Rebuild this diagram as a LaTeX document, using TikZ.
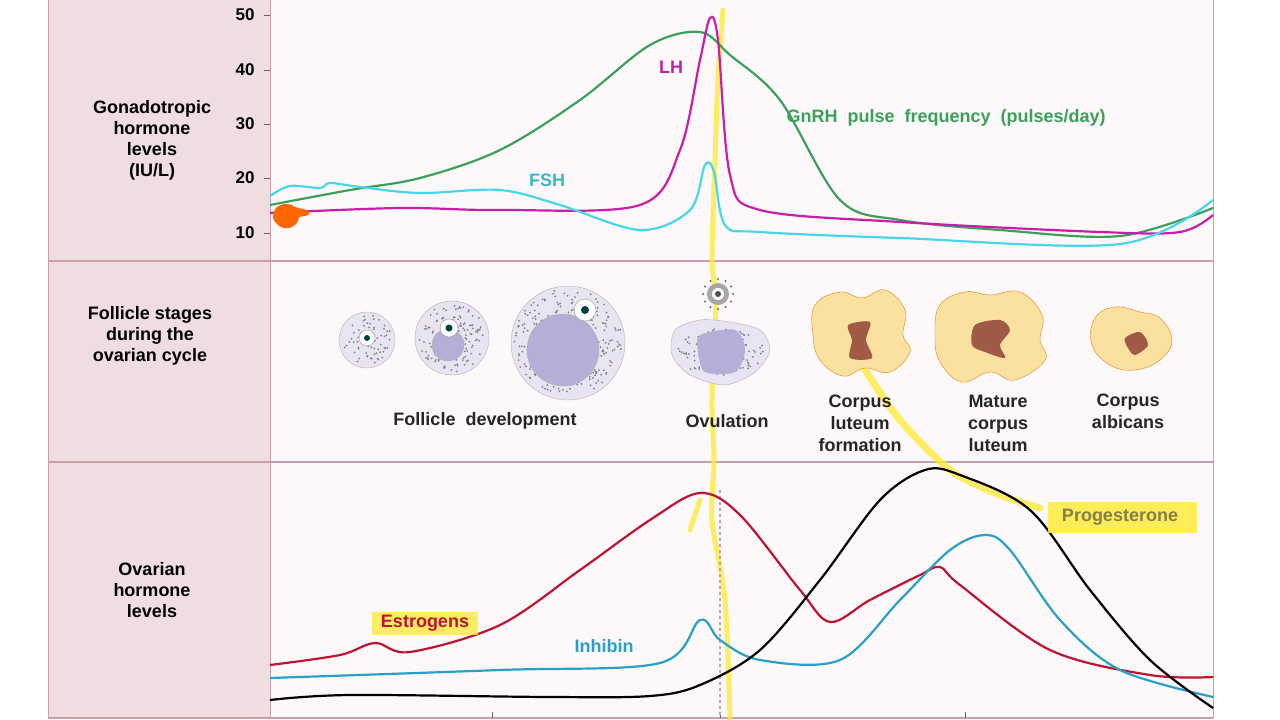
\documentclass[tikz,border=0pt]{standalone}
\usepackage{fontspec}
\setmainfont{Liberation Sans}
\definecolor{panel}{RGB}{240,221,226}
\definecolor{bgr}{RGB}{253,248,250}
\definecolor{divl}{RGB}{200,160,170}
\definecolor{gnrh}{RGB}{60,160,90}
\definecolor{lh}{RGB}{200,30,170}
\definecolor{fsh}{RGB}{70,215,235}
\definecolor{estr}{RGB}{190,20,50}
\definecolor{inh}{RGB}{40,160,200}
\definecolor{hl}{RGB}{255,235,60}
\definecolor{cl}{RGB}{250,225,160}
\definecolor{clc}{RGB}{160,90,70}
\definecolor{foll}{RGB}{232,228,242}
\definecolor{oocyte}{RGB}{180,175,215}
\tikzset{
 curve/.style={line width=2.2pt, smooth, tension=0.55},
 lbl/.style={font=\bfseries\fontsize{18}{21}\selectfont, align=center},
 axn/.style={font=\bfseries\fontsize{17}{18}\selectfont, anchor=east},
 clab/.style={font=\bfseries\fontsize{18}{20}\selectfont},
 stage/.style={font=\bfseries\fontsize{18}{22}\selectfont, align=center, text=black!85},
}
\newcommand{\granules}[5]{% cx cy rx ry n
 \foreach \i in {1,...,#5}{%
  \pgfmathsetmacro{\rr}{sqrt(rnd)}\pgfmathsetmacro{\aa}{360*rnd}%
  \fill[black!50] ({#1+#3*\rr*cos(\aa)},{#2+#4*\rr*sin(\aa)}) circle (1);}}
\begin{document}
\begin{tikzpicture}[x=1pt,y=-1pt]
\pgfmathsetseed{7}
\useasboundingbox (0,0) rectangle (1280,720);
\fill[white] (0,0) rectangle (1280,720);
\fill[bgr] (270,0) rectangle (1213,718);
\fill[panel] (48,0) rectangle (270,718);
\draw[divl, line width=1pt] (48,0) -- (48,718) (270,0) -- (270,718) (1213,0) -- (1213,718);
\draw[divl, line width=1.5pt] (48,261) -- (1213,261) (48,462) -- (1213,462) (48,718) -- (1213,718);
% left labels
\node[lbl] (gl) at (152,140) {Gonadotropic\\hormone\\levels\\(IU/L)};
\node[lbl] (fl) at (150,336) {Follicle stages\\during the\\ovarian cycle};
\node[lbl] (ol) at (152,590) {Ovarian\\hormone\\levels};
% axis
\foreach \v/\y in {50/15,40/70,30/124,20/178,10/233}{
 \node[axn] (a\v) at (258,\y) {\v};
 \draw[black!60] (264,\y) -- (270,\y);
}
\foreach \x in {492,720,965}{\draw[black!60] (\x,712) -- (\x,718);}
% yellow highlight line
\draw[hl, line width=5pt, opacity=0.8, line cap=round] plot[smooth] coordinates {(723,10) (718,80) (715,160) (712,260) (716,300) (712,400) (714,460) (712,520) (725,600) (730,718)};
\draw[hl, line width=5pt, opacity=0.8, line cap=round] (700,500) -- (690,530);
\draw[hl, line width=7pt, opacity=0.8, line cap=round] plot[smooth] coordinates {(865,370) (900,420) (950,470) (1000,495) (1040,508)};
% top curves
\draw[gnrh, curve] plot coordinates {(270,205) (350,190) (420,178) (500,150) (580,100) (650,45) (700,32) (730,55) (780,100) (840,200) (900,220) (1000,230) (1120,236) (1213,208)};
\draw[lh, curve] plot coordinates {(270,213) (400,208) (500,210) (640,205) (680,150) (700,60) (710,18) (718,40) (730,175) (760,210) (900,222) (1100,232) (1180,232) (1213,215)};
\draw[fsh, curve] plot coordinates {(270,196) (290,186) (320,188) (330,183) (360,187) (420,193) (500,190) (560,205) (640,230) (690,210) (705,165) (714,172) (725,225) (760,232) (900,238) (1120,244) (1213,200)};
\node[clab, text=lh] (lhl) at (671,67) {LH};
\node[clab, text=fsh!85!black] (fshl) at (547,180) {FSH};
\node[clab, text=gnrh, anchor=west] (gnl) at (783,118) {GnRH\ \ pulse\ \ frequency\ \ (pulses/day)};
% hand pointer
\fill[orange!80!red] (274,212) .. controls (276,203) and (290,202) .. (295,207) -- (307,210) .. controls (311,211) and (310,216) .. (305,216) -- (299,217) .. controls (298,228) and (284,232) .. (277,224) .. controls (273,221) and (272,216) .. (274,212) -- cycle;
% follicles
\fill[foll, draw=black!30] (367,340) circle (28);
\granules{367}{340}{25}{25}{70}
\fill[white, draw=black!40] (367,338) circle (8); \fill[teal!50!black] (367,338) circle (3);
\fill[foll, draw=black!30] (452,338) circle (37);
\granules{452}{338}{34}{34}{140}
\fill[oocyte, draw=black!30] (448,345) circle (16);
\fill[white, draw=black!40] (449,328) circle (9); \fill[teal!50!black] (449,328) circle (3.5);
\fill[foll, draw=black!30] (568,343) circle (57);
\granules{568}{343}{54}{54}{300}
\fill[oocyte, draw=black!30] (563,350) circle (36);
\fill[white, draw=black!40] (585,310) circle (11); \fill[teal!50!black] (585,310) circle (4);
% ovulation
\fill[foll, draw=black!30] plot[smooth cycle] coordinates {(675,330) (700,320) (730,322) (760,330) (770,350) (755,372) (725,385) (690,375) (672,355)};
\granules{720}{352}{44}{24}{120}
\fill[oocyte] plot[smooth cycle] coordinates {(700,335) (735,330) (745,350) (735,372) (705,372) (698,352)};
\foreach \a in {0,30,...,330}{\fill[black!60] ({718+15*cos(\a)},{294+15*sin(\a)}) circle (1.2);}
\fill[black!35] (718,294) circle (11); \fill[white] (718,294) circle (6); \fill[black!70] (718,294) circle (3);
% corpus luteum
\fill[cl, draw=orange!60!brown] plot[smooth cycle, tension=0.7] coordinates {(815,305) (840,292) (862,298) (885,290) (905,310) (903,335) (910,352) (890,372) (865,368) (843,376) (820,360) (813,335)};
\fill[clc] plot[smooth cycle] coordinates {(848,325) (870,322) (866,340) (872,358) (850,358) (852,340)};
\fill[cl, draw=orange!60!brown] plot[smooth cycle, tension=0.7] coordinates {(940,305) (965,292) (990,295) (1020,292) (1042,315) (1040,340) (1045,360) (1015,380) (990,372) (962,382) (940,362) (935,335)};
\fill[clc] plot[smooth cycle] coordinates {(975,325) (1000,320) (1010,330) (1000,345) (1005,358) (985,352) (972,345)};
\fill[cl, draw=orange!60!brown] plot[smooth cycle, tension=0.7] coordinates {(1095,318) (1115,307) (1140,312) (1160,318) (1172,340) (1160,360) (1135,370) (1110,365) (1092,345)};
\fill[clc] plot[smooth cycle] coordinates {(1125,338) (1140,332) (1148,345) (1135,355) (1128,348)};
% stage labels
\node[stage] (s1) at (485,421) {Follicle\ \ development};
\node[stage] (s2) at (727,421) {Ovulation};
\node[stage] (s3) at (860,423) {Corpus\\luteum\\formation};
\node[stage] (s4) at (998,423) {Mature\\corpus\\luteum};
\node[stage] (s5) at (1128,411) {Corpus\\albicans};
% dashed line
\draw[divl, dashed, line width=1.2pt] (720,490) -- (720,718);
% bottom curves
\draw[estr, curve] plot coordinates {(270,665) (340,655) (375,643) (410,652) (500,625) (580,570) (650,520) (700,493) (740,515) (800,590) (830,622) (870,600) (920,575) (940,567) (960,585) (1050,650) (1150,675) (1213,677)};
\draw[inh, curve] plot coordinates {(270,678) (500,670) (660,663) (700,620) (720,640) (760,660) (840,660) (900,600) (950,550) (985,535) (1010,550) (1060,620) (1120,670) (1213,697)};
\draw[black, curve] plot coordinates {(270,700) (350,695) (550,697) (650,696) (700,685) (760,650) (820,580) (880,500) (925,470) (960,475) (1030,510) (1090,590) (1150,660) (1213,708)};
\fill[hl, opacity=0.8] (372,612) rectangle (478,635);
\node[clab, text=estr] (el) at (425,623) {Estrogens};
\node[clab, text=inh] (il) at (604,646) {Inhibin};
\fill[hl, opacity=0.85] (1048,502) rectangle (1197,533);
\node[clab, text=black!55!yellow] (pl) at (1120,517) {Progesterone};
\end{tikzpicture}
\end{document}
